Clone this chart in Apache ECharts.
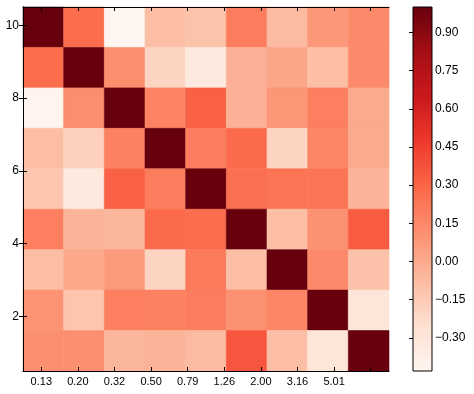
<!DOCTYPE html>
<html><head><meta charset="utf-8">
<script src="https://cdn.jsdelivr.net/npm/echarts@6/dist/echarts.min.js"></script>
<style>html,body{margin:0;padding:0;background:#fff}#c{width:474px;height:394px}</style>
</head><body><div id="c"></div>
<script>
// ---- data ----
const xTickLabels = ['0.13','0.20','0.32','0.50','0.79','1.26','2.00','3.16','5.01'];
const xTickPositions = [0.5,1.5,2.5,3.5,4.5,5.5,6.5,7.5,8.5,9.5];
const yTickValues = [2,4,6,8,10];
const cbarTicks = [-0.30,-0.15,0.00,0.15,0.30,0.45,0.60,0.75,0.90];
const cbarMin = -0.43;
const cbarMax = 1.0;
const redsColors = ['#fff5f0','#fee0d2','#fcbba1','#fc9272','#fb6a4a','#ef3b2c','#cb181d','#a50f15','#67000d'];
// matrix rows, listed from the top row to the bottom row
const rowTop1 = [ 1.00, 0.27,-0.43,-0.09,-0.11, 0.20,-0.07, 0.08, 0.14];
const rowTop2 = [ 0.27, 1.00, 0.13,-0.19,-0.33,-0.03, 0.02,-0.09, 0.14];
const rowTop3 = [-0.42, 0.13, 1.00, 0.17, 0.32,-0.03, 0.09, 0.19, 0.00];
const rowTop4 = [-0.08,-0.18, 0.18, 1.00, 0.20, 0.28,-0.19, 0.16, 0.00];
const rowTop5 = [-0.12,-0.33, 0.32, 0.20, 1.00, 0.26, 0.24, 0.24,-0.04];
const rowTop6 = [ 0.19,-0.04,-0.05, 0.28, 0.27, 1.00,-0.09, 0.11, 0.34];
const rowTop7 = [-0.08, 0.01, 0.07,-0.19, 0.21,-0.09, 1.00, 0.14,-0.10];
const rowTop8 = [ 0.10,-0.12, 0.19, 0.18, 0.20, 0.11, 0.16, 1.00,-0.29];
const rowTop9 = [ 0.12, 0.12,-0.05,-0.04,-0.07, 0.36,-0.09,-0.29, 1.00];
const rows = [rowTop1,rowTop2,rowTop3,rowTop4,rowTop5,rowTop6,rowTop7,rowTop8,rowTop9];

// ---- build ----
const nRows = rows.length, nCols = rows[0].length;
const cells = [];
rows.forEach((row, r) => row.forEach((v, c) => cells.push([c, nRows - 1 - r, v])));

const FONT = 'Liberation Sans, Arial, sans-serif';
const axisLineStyle = {show: true, lineStyle: {color: '#000', width: 1}};

const chart = echarts.init(document.getElementById('c'), null, {renderer: 'canvas'});
chart.setOption({
  animation: false,
  backgroundColor: '#fff',
  grid: [
    {left: 23, top: 7, width: 366, height: 364, containLabel: false},
    {left: 413, top: 7, width: 19, height: 364, containLabel: false}
  ],
  xAxis: [
    {gridIndex: 0, type: 'value', min: 0, max: 10, position: 'bottom', z: 10,
     axisLine: axisLineStyle, splitLine: {show: false},
     axisTick: {show: true, inside: true, length: 4, lineStyle: {color: '#000'}, customValues: xTickPositions},
     axisLabel: {show: true, margin: 5, color: '#000', fontSize: 11, fontFamily: FONT,
       customValues: xTickPositions.slice(0, xTickLabels.length),
       formatter: v => xTickLabels[xTickPositions.indexOf(v)]}},
    {gridIndex: 0, type: 'value', min: 0, max: 10, position: 'top', z: 10,
     axisLine: axisLineStyle, splitLine: {show: false},
     axisTick: {show: true, inside: true, length: 4, lineStyle: {color: '#000'}, customValues: xTickPositions},
     axisLabel: {show: false}},
    {gridIndex: 0, type: 'value', min: 0, max: nCols, show: false},
    {gridIndex: 1, type: 'value', min: 0, max: 1, show: false}
  ],
  yAxis: [
    {gridIndex: 0, type: 'value', min: 0.5, max: 10.5, position: 'left', z: 10,
     axisLine: axisLineStyle, splitLine: {show: false},
     axisTick: {show: true, inside: true, length: 4, lineStyle: {color: '#000'}, customValues: yTickValues},
     axisLabel: {show: true, margin: 4, color: '#000', fontSize: 12, fontFamily: FONT, customValues: yTickValues}},
    {gridIndex: 0, type: 'value', min: 0.5, max: 10.5, position: 'right', z: 10,
     axisLine: axisLineStyle, splitLine: {show: false},
     axisTick: {show: true, inside: true, length: 4, lineStyle: {color: '#000'}, customValues: yTickValues},
     axisLabel: {show: false}},
    {gridIndex: 0, type: 'value', min: 0, max: nRows, show: false},
    {gridIndex: 1, type: 'value', min: cbarMin, max: cbarMax, position: 'right', z: 10,
     axisLine: {show: false}, splitLine: {show: false},
     axisTick: {show: true, inside: true, length: 4, lineStyle: {color: '#000'}, customValues: cbarTicks},
     axisLabel: {show: true, margin: 3, color: '#000', fontSize: 12, fontFamily: FONT, customValues: cbarTicks,
       formatter: v => (v < 0 ? '\u2212' : '') + Math.abs(v).toFixed(2)}}
  ],
  visualMap: {
    type: 'continuous', show: false, min: cbarMin, max: cbarMax, dimension: 2, seriesIndex: 0,
    inRange: {color: redsColors}
  },
  series: [
    {
      type: 'custom', xAxisIndex: 2, yAxisIndex: 2, data: cells, silent: true,
      renderItem: function (params, api) {
        const c = api.value(0), r = api.value(1);
        const p0 = api.coord([c, r]);
        const p1 = api.coord([c + 1, r + 1]);
        const col = api.visual('color');
        return {type: 'rect',
          shape: {x: p0[0], y: p1[1], width: p1[0] - p0[0], height: p0[1] - p1[1]},
          style: {fill: col, stroke: col, lineWidth: 0.6}};
      }
    },
    {
      type: 'custom', xAxisIndex: 3, yAxisIndex: 3, data: [[0, cbarMin, cbarMax]], silent: true, z: 3,
      renderItem: function (params, api) {
        const a = api.coord([0, api.value(1)]);
        const b = api.coord([1, api.value(2)]);
        const stops = redsColors.map((c, i) => ({offset: i / (redsColors.length - 1), color: c}));
        return {type: 'rect',
          shape: {x: a[0], y: b[1], width: b[0] - a[0], height: a[1] - b[1]},
          style: {fill: new echarts.graphic.LinearGradient(0, 1, 0, 0, stops), stroke: '#000', lineWidth: 1}};
      }
    }
  ]
});
</script>
</body></html>
